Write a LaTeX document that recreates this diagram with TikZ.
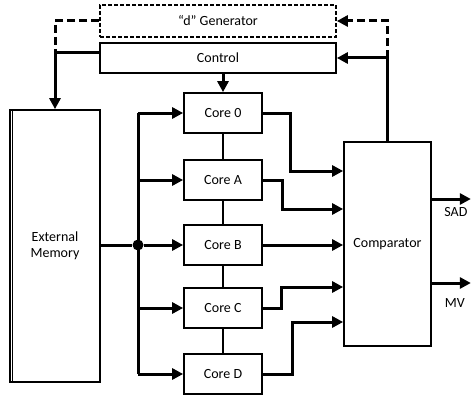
\documentclass[tikz,border=0pt]{standalone}
\usepackage{fontspec}
\setmainfont{Carlito}
\usetikzlibrary{arrows.meta}

\tikzset{
  blk/.style={draw, line width=1.7pt, inner sep=0pt, align=center,
    font=\fontsize{14}{16}\selectfont},
  coreblk/.style={blk, minimum width=78pt, minimum height=40pt},
  wire/.style={line width=3pt},
  arr/.style={wire, -{Triangle[length=11pt,width=11pt]}},
  darr/.style={arr, dash pattern=on 8pt off 4pt},
  dwire/.style={wire, dash pattern=on 8pt off 4pt}
}

\begin{document}
\begin{tikzpicture}[x=1pt,y=-1pt]
  \useasboundingbox (0,0) rectangle (474,404);
  % blocks
  \node[blk, dash pattern=on 4pt off 2pt, minimum width=236pt, minimum height=32pt] (gen) at (218,21) {``d'' Generator};
  \node[blk, minimum width=236pt, minimum height=30pt] (ctl) at (218,58) {Control};
  \node[blk, minimum width=90pt, minimum height=272pt] (mem) at (55,246) {External\\Memory};
  \node[coreblk] (c0) at (223,113) {Core 0};
  \node[coreblk] (cA) at (223,180) {Core A};
  \node[coreblk] (cB) at (223,245) {Core B};
  \node[coreblk] (cC) at (223,308) {Core C};
  \node[coreblk] (cD) at (223,374) {Core D};
  \node[blk, minimum width=87pt, minimum height=204pt] (cmp) at (387.5,244) {Comparator};
  \draw[line width=0.8pt] ([xshift=3pt]mem.north west) -- ([xshift=3pt]mem.south west);

  % control and feedback
  \coordinate (ctlout) at ([yshift=5pt]ctl.west);
  \draw[arr] (ctlout) -| (mem.north);
  \draw[dwire] (gen.west) -| (ctlout -| mem.north);
  \draw[arr] (ctl.south -| c0.north) -- (c0.north);
  \draw[arr] (cmp.north) |- (ctl.east);
  \draw[darr] (cmp.north |- ctl.east) |- (gen.east);

  % memory bus
  \node[circle, fill, inner sep=0pt, minimum size=11pt] (dot) at (138,245) {};
  \draw[wire] (mem.east |- dot) -- (dot);
  \draw[wire] (dot |- c0) -- (dot |- cD);
  \foreach \c in {c0,cA,cC,cD}
    \draw[arr] (dot |- \c) -- (\c.west);
  \draw[arr] (dot) -- (cB.west);

  % core chain
  \draw[line width=1.8pt] (c0.south) -- (cA.north);
  \draw[line width=1.8pt] (cA.south) -- (cB.north);
  \draw[line width=1.8pt] (cB.south) -- (cC.north);
  \draw[line width=1.8pt] (cC.south) -- (cD.north);

  % comparator inputs
  \draw[arr] (c0.east) -- ++(28,0) |- ([yshift=73pt]cmp.west);
  \draw[arr] (cA.east) -- ++(20,0) |- ([yshift=35pt]cmp.west);
  \draw[arr] (cB.east) -- (cmp.west |- cB);
  \draw[arr] (cC.east) -- ++(19,0) |- ([yshift=-43pt]cmp.west);
  \draw[arr] (cD.east) -- ++(30,0) |- ([yshift=-78pt]cmp.west);

  % outputs
  \draw[arr] ([yshift=45pt]cmp.east) -- ++(39,0) coordinate (sad);
  \draw[arr] ([yshift=-39pt]cmp.east) -- ++(39,0) coordinate (mv);
  \node[font=\fontsize{14}{16}\selectfont] (sadl) at ([xshift=-15pt,yshift=-13pt]sad) {SAD};
  \node[font=\fontsize{14}{16}\selectfont] (mvl) at ([xshift=-16pt,yshift=-20pt]mv) {MV};
\end{tikzpicture}
\end{document}
